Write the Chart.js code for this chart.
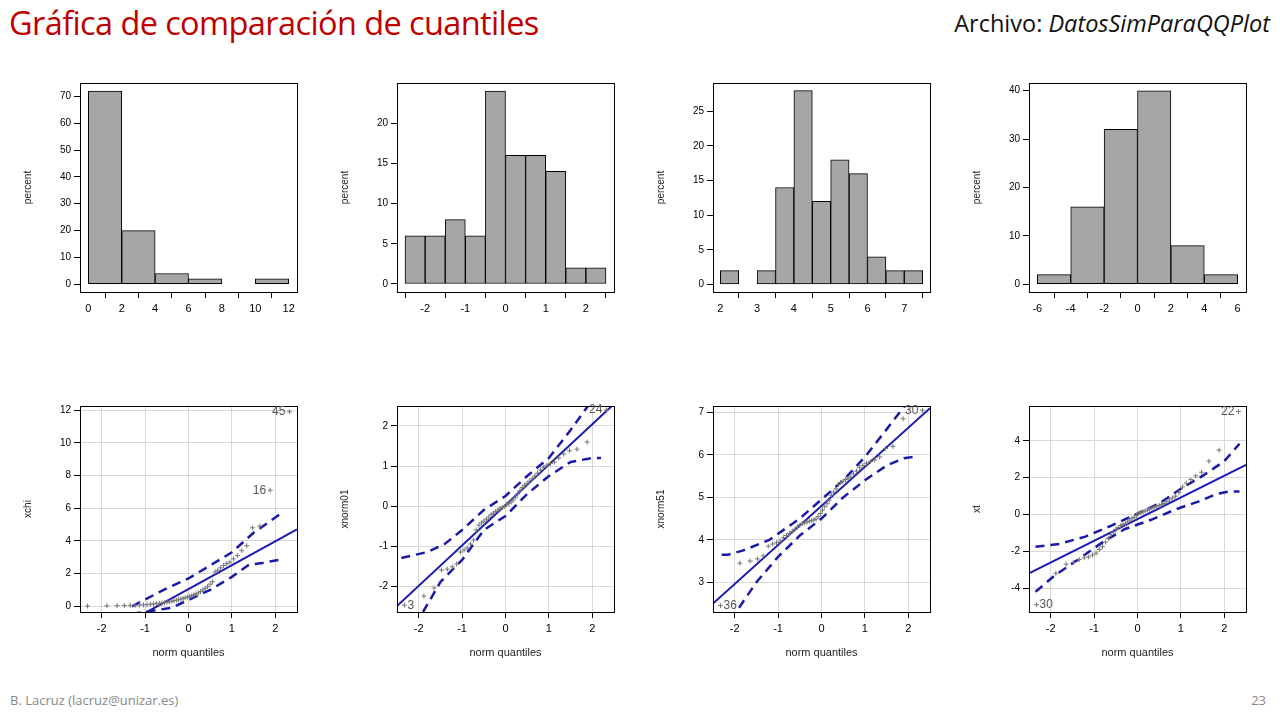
<!DOCTYPE html>
<html><head><meta charset="utf-8">
<script src="https://cdn.jsdelivr.net/npm/chart.js@4"></script>
<style>
body{margin:0;width:1280px;height:720px;background:#fff;position:relative;overflow:hidden;font-family:"Open Sans",sans-serif}
.c{position:absolute}
#title{position:absolute;left:9px;top:0px;font-size:32.5px;color:#c00000;letter-spacing:-0.6px}
#file{position:absolute;right:10px;top:7px;font-size:23.5px;color:#111}
#foot{position:absolute;left:10px;top:691px;font-size:13px;color:#888}
#page{position:absolute;right:14px;top:691px;font-size:13px;color:#888}
</style></head><body>
<div id="title">Gráfica de comparación de cuantiles</div>
<div id="file">Archivo: <i>DatosSimParaQQPlot</i></div>
<div id="foot">B. Lacruz (lacruz@unizar.es)</div>
<div id="page">23</div>
<script>
'use strict';

// histogram bins (centers) and percents
var h1x = [1, 3, 5, 7, 9, 11], h1y = [72, 20, 4, 2, 0, 2];
var h2x = [-2.25, -1.75, -1.25, -0.75, -0.25, 0.25, 0.75, 1.25, 1.75, 2.25], h2y = [6, 6, 8, 6, 24, 16, 16, 14, 2, 2];
var h3x = [2.25, 2.75, 3.25, 3.75, 4.25, 4.75, 5.25, 5.75, 6.25, 6.75, 7.25], h3y = [2, 0, 2, 14, 28, 12, 18, 16, 4, 2, 2];
var h4x = [-5, -3, -1, 1, 3, 5], h4y = [2, 16, 32, 40, 8, 2];
var h1ticks = [0, 2, 4, 6, 8, 10, 12], h1yt = [0, 10, 20, 30, 40, 50, 60, 70];
var h2ticks = [-2, -1, 0, 1, 2], h2yt = [0, 5, 10, 15, 20];
var h3ticks = [2, 3, 4, 5, 6, 7], h3yt = [0, 5, 10, 15, 20, 25];
var h4ticks = [-6, -4, -2, 0, 2, 4, 6], h4yt = [0, 10, 20, 30, 40];

// normal quantiles, n = 50
var normQ = [-2.326,-1.881,-1.645,-1.476,-1.341,-1.227,-1.126,-1.036,-0.954,-0.878,-0.806,-0.739,-0.674,-0.613,-0.553,-0.496,-0.440,-0.385,-0.332,-0.279,-0.228,-0.176,-0.126,-0.075,-0.025,
  0.025,0.075,0.126,0.176,0.228,0.279,0.332,0.385,0.440,0.496,0.553,0.613,0.674,0.739,0.806,0.878,0.954,1.036,1.126,1.227,1.341,1.476,1.645,1.881,2.326];

var xchi = [0.02,0.03,0.04,0.05,0.06,0.07,0.08,0.09,0.10,0.12,0.14,0.16,0.18,0.20,0.22,0.25,0.28,0.31,0.34,0.37,0.40,0.44,0.48,0.52,0.56,0.60,0.65,0.70,0.76,0.82,0.90,1.0,1.1,1.2,1.35,1.5,
  2.1,2.2,2.35,2.5,2.6,2.7,2.9,3.1,3.4,3.7,4.8,4.9,7.1,11.9];
var xnorm01 = [-2.48,-2.25,-2.05,-1.6,-1.58,-1.52,-1.45,-1.15,-1.1,-1.05,-0.95,-0.85,-0.6,
  -0.48,-0.42,-0.38,-0.33,-0.28,-0.22,-0.18,-0.14,-0.1,-0.07,-0.04,-0.01,0.03,0.06,0.1,0.15,0.22,0.3,0.38,0.46,
  0.52,0.56,0.62,0.68,0.75,0.82,0.9,0.97,1.02,1.06,1.1,1.2,1.3,1.38,1.42,1.6,2.4];
var xnorm51 = [2.45,3.45,3.5,3.55,3.62,3.85,3.9,3.93,3.97,4.05,4.1,4.15,4.2,4.25,4.3,4.35,4.38,4.4,4.42,4.44,4.45,4.47,4.49,
  4.55,4.62,4.7,4.78,4.85,4.93,5.05,5.12,5.2,5.3,5.35,5.38,5.42,5.45,5.48,5.55,5.62,5.7,5.75,5.8,5.84,5.88,5.95,6.15,6.2,6.85,7.05];
var xt = [-4.9,-3.2,-2.7,-2.6,-2.45,-2.35,-2.3,-2.2,-2.1,-1.9,-1.75,-1.5,-1.3,-1.1,-0.95,-0.8,-0.7,-0.6,-0.55,-0.5,-0.4,-0.3,-0.2,-0.15,-0.05,
  0.05,0.1,0.15,0.2,0.25,0.3,0.35,0.4,0.45,0.5,0.55,0.6,0.7,0.8,0.9,1.0,1.2,1.5,1.7,1.9,2.1,2.3,2.9,3.5,5.6];

// reference lines and envelopes
var line1 = [[-2.5,-2.6],[2.5,4.7]];
var up1 = [[-1.3,0],[-0.5,1.1],[0,1.7],[0.5,2.5],[1,3.3],[1.5,4.5],[2.2,5.8]];
var lo1 = [[-1.65,-0.6],[-0.4,-0.1],[0.5,1.0],[1.0,1.8],[1.4,2.55],[1.7,2.65],[2.2,2.9]];
var line2 = [[-2.5,-2.5],[2.5,2.55]];
var up2 = [[-2.4,-1.3],[-1.8,-1.15],[-1.4,-0.95],[-1,-0.6],[-0.5,-0.1],[0,0.25],[0.5,0.75],[1,1.2],[1.5,1.9],[1.9,2.5]];
var lo2 = [[-1.9,-2.65],[-1.5,-1.9],[-1,-1.35],[-0.5,-0.6],[0,-0.25],[0.5,0.3],[1,0.75],[1.5,1.1],[2.0,1.2],[2.2,1.2]];
var line3 = [[-2.5,2.5],[2.5,7.1]];
var up3 = [[-2.3,3.65],[-2.15,3.65],[-1.8,3.75],[-1.2,4.0],[-0.5,4.5],[0,4.95],[0.5,5.4],[1,5.95],[1.5,6.6],[1.95,7.2]];
var lo3 = [[-1.9,2.4],[-1.5,3.0],[-1,3.6],[-0.5,4.1],[0,4.5],[0.5,5.0],[1,5.4],[1.5,5.75],[1.9,5.92],[2.1,5.95]];
var line4 = [[-2.5,-3.2],[2.5,2.7]];
var up4 = [[-2.35,-1.75],[-1.8,-1.6],[-1.2,-1.2],[-0.6,-0.6],[0,0.05],[0.5,0.6],[1,1.4],[1.5,2.1],[2.0,2.9],[2.35,3.85]];
var lo4 = [[-2.35,-4.2],[-1.9,-3.3],[-1.4,-2.5],[-0.8,-1.5],[-0.3,-0.8],[0.3,-0.3],[0.9,0.3],[1.4,0.7],[1.8,1.1],[2.1,1.25],[2.35,1.25]];

var qqTicksX = [-2, -1, 0, 1, 2];
var qq1yt = [0, 2, 4, 6, 8, 10, 12], qq2yt = [-2, -1, 0, 1, 2], qq3yt = [3, 4, 5, 6, 7], qq4yt = [-4, -2, 0, 2, 4];
var qq1lab = [[49,'45','l'],[48,'16','l']], qq2lab = [[49,'24','l'],[0,'3','r']];
var qq3lab = [[49,'30','l'],[0,'36','r']], qq4lab = [[49,'22','l'],[0,'30','r']];

var plotsX = [80, 397, 713, 1029], plotW = 216;
var YW = 58;

var boxPlugin = {
  id: 'box',
  afterDraw: function(ch){
    var a = ch.chartArea, c = ch.ctx;
    c.save(); c.strokeStyle = '#000'; c.lineWidth = 1;
    c.strokeRect(a.left + 0.5, a.top + 0.5, a.right - a.left, a.bottom - a.top);
    var labs = ch.options.plugins.qlab;
    if (labs && labs.items) {
      var ds = ch.data.datasets[0];
      c.font = '12px Arial'; c.fillStyle = '#555'; c.textBaseline = 'middle';
      labs.items.forEach(function(l){
        var p = ds.data[l[0]];
        var px = ch.scales.x.getPixelForValue(p.x), py = ch.scales.y.getPixelForValue(p.y);
        if (l[2] === 'l') { c.textAlign = 'right'; c.fillText(l[1], px - 4, py); }
        else { c.textAlign = 'left'; c.fillText(l[1], px + 3, py); }
      });
    }
    c.restore();
  }
};

function mk(left, top, w, h){
  var cv = document.createElement('canvas');
  cv.className = 'c';
  cv.style.left = left + 'px'; cv.style.top = top + 'px';
  cv.style.width = w + 'px'; cv.style.height = h + 'px';
  document.body.appendChild(cv);
  return cv.getContext('2d');
}

function fixTicks(arr){ return function(s){ s.ticks = arr.map(function(v){ return {value: v}; }); }; }

function scaleX(min, max, ticks, title, grid){
  return {
    type: 'linear', min: min, max: max, offset: false,
    afterBuildTicks: fixTicks(ticks),
    afterFit: function(s){ s.height = title ? 52 : 30; },
    grid: {drawOnChartArea: grid, color: '#d8d8d8', tickColor: '#000', tickLength: 6, drawTicks: true},
    border: {display: false},
    ticks: {color: '#000', font: {size: 11, family: 'Arial'}, maxRotation: 0, padding: 4},
    title: {display: !!title, text: title, color: '#222', font: {size: 11, family: 'Arial'}, padding: {top: 6}}
  };
}
function scaleY(min, max, ticks, title, grid){
  return {
    type: 'linear', min: min, max: max,
    afterBuildTicks: fixTicks(ticks),
    afterFit: function(s){ s.width = YW; },
    grid: {drawOnChartArea: grid, color: '#d8d8d8', tickColor: '#000', tickLength: 6},
    border: {display: false},
    ticks: {color: '#000', font: {size: 10, family: 'Arial'}, padding: 3},
    title: {display: true, text: title, color: '#222', font: {size: 10, family: 'Arial'}, padding: 0}
  };
}

function hist(i, xs, ys, xmin, xmax, xt, ymin, ymax, yt){
  var ctx = mk(plotsX[i] - YW, 74, plotW + YW + 6, 218 + 30);
  new Chart(ctx, {
    type: 'bar',
    data: {datasets: [{
      data: xs.map(function(x, k){ return {x: x, y: ys[k]}; }),
      backgroundColor: '#a6a6a6', borderColor: '#000', borderWidth: 1,
      barPercentage: 1, categoryPercentage: 1, borderSkipped: false
    }]},
    options: {
      animation: false, responsive: false, devicePixelRatio: 1,
      layout: {padding: {top: 4, right: 5}},
      plugins: {legend: {display: false}, tooltip: {enabled: false}},
      scales: {x: scaleX(xmin, xmax, xt, '', false), y: scaleY(ymin, ymax, yt, 'percent', false)}
    },
    plugins: [boxPlugin]
  });
}

function pts(a){ return a.map(function(p){ return {x: p[0], y: p[1]}; }); }

function qq(i, ys, name, ymin, ymax, yt, line, up, lo, labs){
  var ctx = mk(plotsX[i] - YW, 397, plotW + YW + 6, 215 + 52);
  var dash = {borderColor: '#1a1aa8', borderWidth: 2.5, borderDash: [9, 6], pointRadius: 0, showLine: true, fill: false, tension: 0};
  new Chart(ctx, {
    type: 'scatter',
    data: {datasets: [
      {data: normQ.map(function(q, k){ return {x: q, y: ys[k]}; }), pointStyle: 'cross', pointRadius: 2.5,
       borderColor: '#777', borderWidth: 1},
      Object.assign({data: pts(up)}, dash),
      Object.assign({data: pts(lo)}, dash),
      {data: pts(line), showLine: true, borderColor: '#1a1ab0', borderWidth: 2, pointRadius: 0}
    ]},
    options: {
      animation: false, responsive: false, devicePixelRatio: 1,
      layout: {padding: {top: 4, right: 5}},
      plugins: {legend: {display: false}, tooltip: {enabled: false}, qlab: {items: labs}},
      scales: {x: scaleX(-2.5, 2.5, qqTicksX, 'norm quantiles', true), y: scaleY(ymin, ymax, yt, name, true)}
    },
    plugins: [boxPlugin]
  });
}

document.addEventListener('DOMContentLoaded', function(){
  hist(0, h1x, h1y, -0.5, 12.5, h1ticks, -2.9, 75, h1yt);
  hist(1, h2x, h2y, -2.7, 2.7, h2ticks, -1, 25, h2yt);
  hist(2, h3x, h3y, 1.8, 7.7, h3ticks, -1.1, 29.1, h3yt);
  hist(3, h4x, h4y, -6.5, 6.5, h4ticks, -1.6, 41.6, h4yt);
  qq(0, xchi, 'xchi', -0.35, 12.25, qq1yt, line1, up1, lo1, qq1lab);
  qq(1, xnorm01, 'xnorm01', -2.65, 2.5, qq2yt, line2, up2, lo2, qq2lab);
  qq(2, xnorm51, 'xnorm51', 2.3, 7.15, qq3yt, line3, up3, lo3, qq3lab);
  qq(3, xt, 'xt', -5.3, 5.9, qq4yt, line4, up4, lo4, qq4lab);
});
</script>
</body></html>
